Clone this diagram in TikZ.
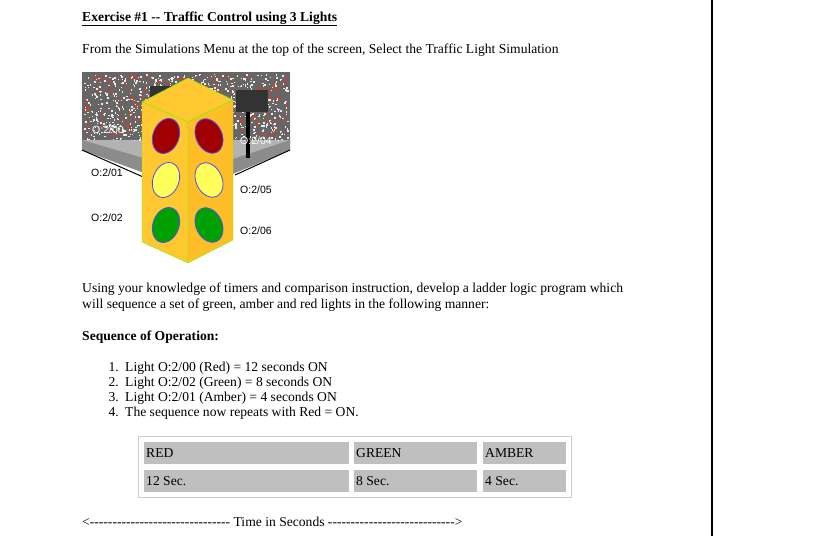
\documentclass[tikz,border=0pt]{standalone}
\usepackage{fontspec}
\setmainfont{Liberation Serif}
\newfontfamily\lblfont{Liberation Sans}
\newcommand\hyph{-\kern0pt}
\newcommand\dashes[1]{\foreach \j in {1,...,#1}{\hyph}}
\begin{document}
\begin{tikzpicture}[x=1pt,y=-1pt,
  txt/.style={anchor=base west,inner sep=0pt,font=\fontsize{13.6}{15}\selectfont},
  lbl/.style={anchor=west,inner sep=0pt,font=\lblfont\fontsize{10.5}{12}\selectfont},
  cell/.style={fill=gray!50,draw=white,line width=1pt,anchor=north west,inner sep=0pt},
  ctxt/.style={anchor=west,inner sep=0pt,font=\fontsize{13.6}{15}\selectfont}]
\useasboundingbox (0,0) rectangle (819,536);
\fill[white] (0,0) rectangle (819,536);
\draw[line width=2pt] (712,0) -- (712,536);
\node[txt,font=\bfseries\fontsize{13.6}{15}\selectfont] (title) at (82,21) {\underline{Exercise \#1 \hyph\hyph{} Traffic Control using 3 Lights}};
\node[txt] (menu) at (82,53) {From the Simulations Menu at the top of the screen, Select the Traffic Light Simulation};
% scene
\fill[gray!60] (82,150) -- (82,72) -- (290,72) -- (290,150) -- (230,175) -- (150,175) -- cycle;
\fill[black!60] (82,72) rectangle (290,140);
\fill[black!45] (82,140) -- (150,160) -- (230,160) -- (290,140) -- (290,150) -- (230,175) -- (150,175) -- (82,150) -- cycle;
\pgfmathsetseed{7}
\foreach \i in {0,...,900}{\pgfmathsetmacro{\xx}{84+204*rnd}\pgfmathsetmacro{\yy}{74+66*rnd}
 \fill[white!85!gray] (\xx,\yy) rectangle ++(1.5,1.5);}
\foreach \i in {0,...,350}{\pgfmathsetmacro{\xx}{84+204*rnd}\pgfmathsetmacro{\yy}{74+62*rnd}
 \fill[red!60!brown] (\xx,\yy) rectangle ++(1.5,1.5);}
\draw[black,line width=1pt] (82,150) -- (150,180); \draw[black,line width=1pt] (290,150) -- (235,175);
\fill[black!80] (150,86) rectangle (188,108);
\fill[black!80] (236,90) rectangle (268,112); \fill[black] (246,112) rectangle (250,158);
% light box
\coordinate (a) at (142,102); \coordinate (b) at (188,78); \coordinate (c) at (233,100); \coordinate (m) at (188,122);
\filldraw[fill={rgb,255:red,255;green,200;blue,48},draw=green!60!yellow] (a) -- (b) -- (c) -- (m) -- cycle;
\filldraw[fill={rgb,255:red,255;green,200;blue,48},draw=green!60!yellow] (a) -- (m) -- (188,263) -- (142,242) -- cycle;
\filldraw[fill={rgb,255:red,255;green,190;blue,40},draw=green!60!yellow] (m) -- (c) -- (233,240) -- (188,263) -- cycle;
\foreach \y/\c in {136/{rgb,255:red,160;green,0;blue,0},180/{rgb,255:red,255;green,255;blue,90},225/{rgb,255:red,0;green,160;blue,0}}{
 \filldraw[fill=\c,draw=blue!70,line width=0.8pt,rotate around={-20:(166,\y)}] (166,\y) ellipse (13 and 18);
 \filldraw[fill=\c,draw=blue!70,line width=0.8pt,rotate around={25:(209,\y)}] (209,\y) ellipse (13 and 18);}
\node[lbl,text=white] (o0) at (92,130) {O:2/00};
\node[lbl] (o1) at (91,173) {O:2/01};
\node[lbl] (o2) at (91,218) {O:2/02};
\node[lbl,text=white] (o4) at (240,141) {O:2/04};
\node[lbl] (o5) at (240,190) {O:2/05};
\node[lbl] (o6) at (240,231) {O:2/06};
% paragraph
\node[txt] (p1) at (82,292) {Using your knowledge of timers and comparison instruction, develop a ladder logic program which};
\node[txt] (p2) at (82,308) {will sequence a set of green, amber and red lights in the following manner:};
\node[txt,font=\bfseries\fontsize{13.6}{15}\selectfont] (seq) at (82,340) {Sequence of Operation:};
\foreach \n/\t [count=\k] in {1/{Light O:2/00 (Red) = 12 seconds ON},2/{Light O:2/02 (Green) = 8 seconds ON},3/{Light O:2/01 (Amber) = 4 seconds ON},4/{The sequence now repeats with Red = ON.}}{
 \node[txt,anchor=base east] (n\k) at (119,356+15*\k) {\n.};
 \node[txt] (l\k) at (125,356+15*\k) {\t};}
% table
\draw[gray!40,line width=1pt] (138,436) rectangle (571,497);
\node[cell,minimum width=206,minimum height=23] (r1) at (143,441) {};
\node[cell,minimum width=124,minimum height=23] (g1) at (353,441) {};
\node[cell,minimum width=84,minimum height=23] (a1) at (482,441) {};
\node[cell,minimum width=206,minimum height=23] (r2) at (143,469) {};
\node[cell,minimum width=124,minimum height=23] (g2) at (353,469) {};
\node[cell,minimum width=84,minimum height=23] (a2) at (482,469) {};
\node[ctxt] at ([xshift=3]r1.west) {RED};
\node[ctxt] at ([xshift=3]g1.west) {GREEN};
\node[ctxt] at ([xshift=3]a1.west) {AMBER};
\node[ctxt] at ([xshift=3]r2.west) {12 Sec.};
\node[ctxt] at ([xshift=3]g2.west) {8 Sec.};
\node[ctxt] at ([xshift=3]a2.west) {4 Sec.};
\node[txt] (time) at (82,526) {<\dashes{31} Time in Seconds \dashes{28}>};
\end{tikzpicture}
\end{document}
